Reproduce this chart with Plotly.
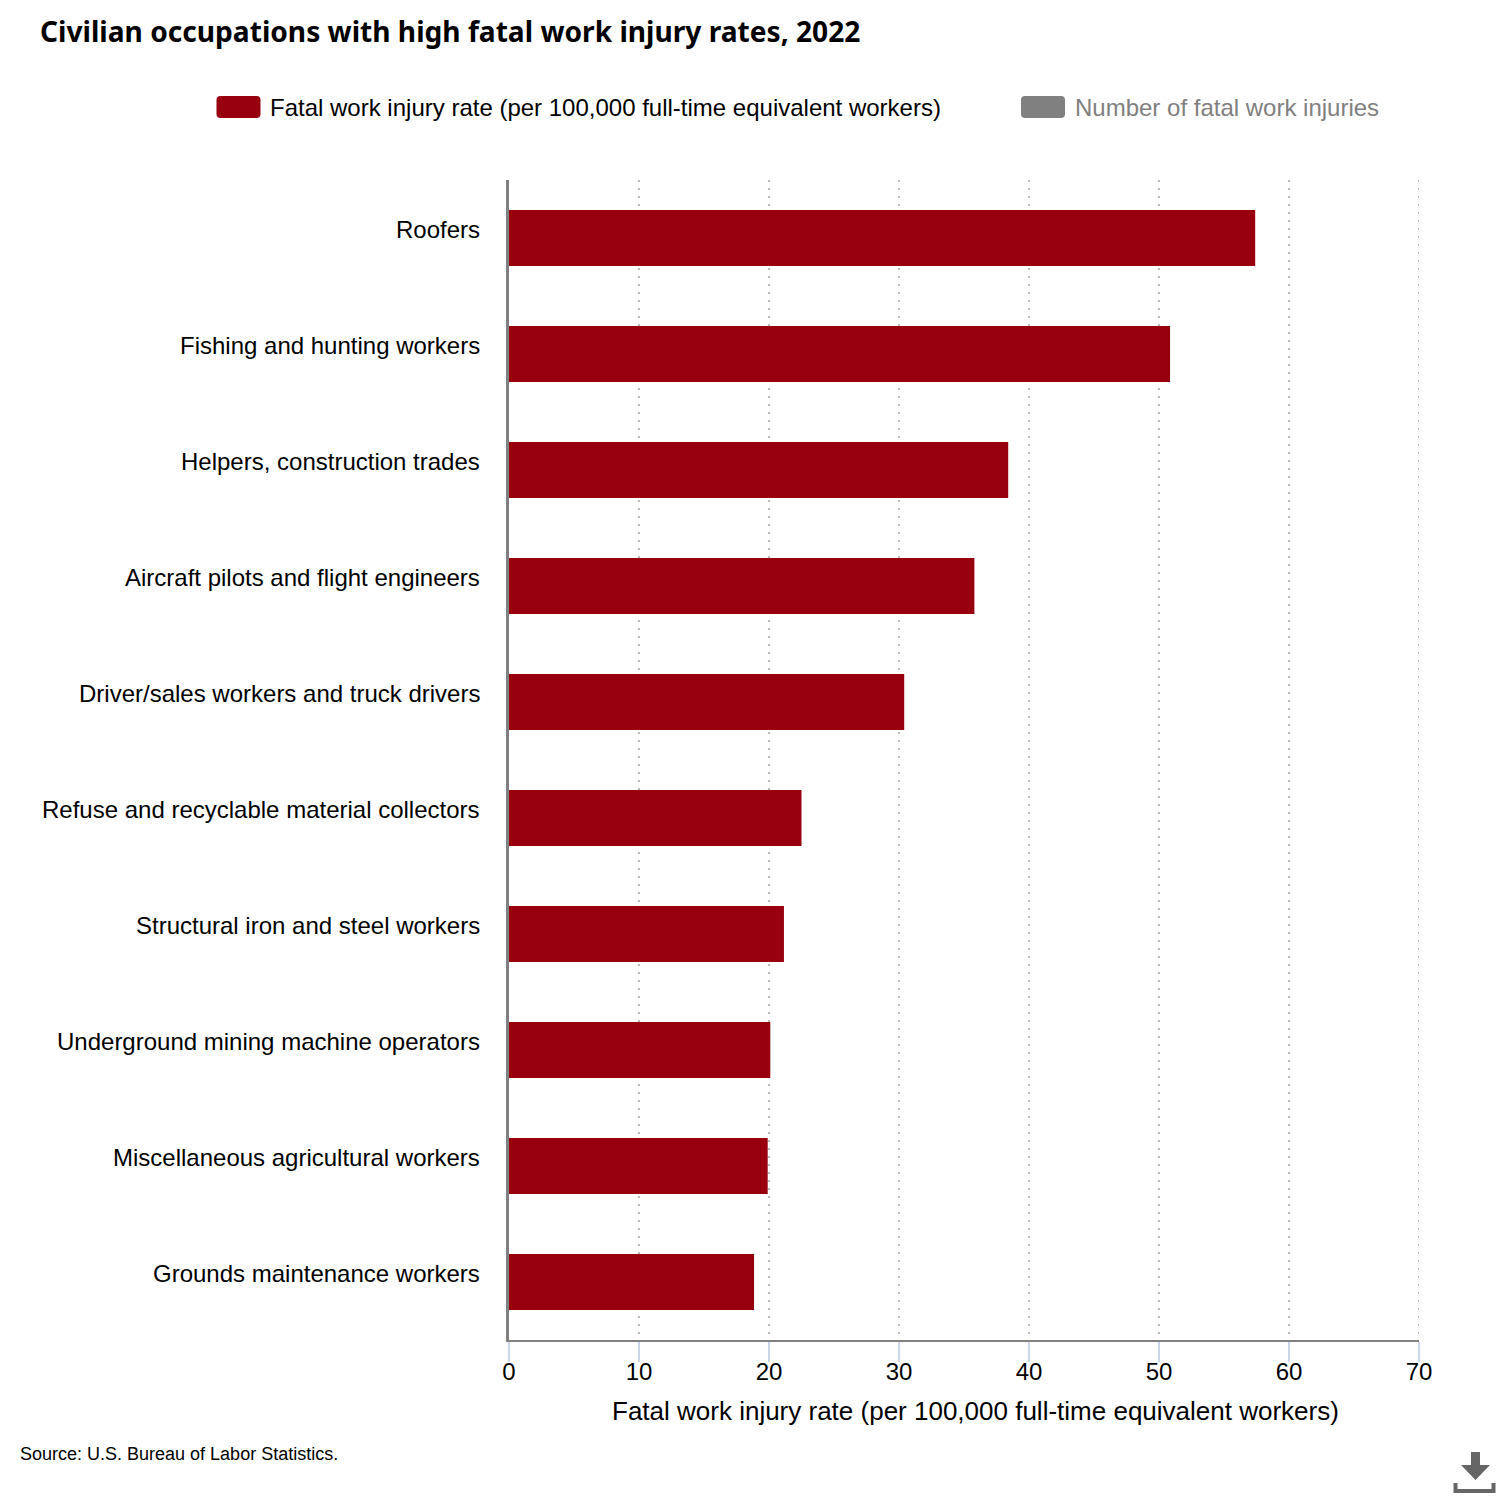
import plotly.graph_objects as go

CATEGORIES = ["Roofers", "Fishing and hunting workers", "Helpers, construction trades",
              "Aircraft pilots and flight engineers", "Driver/sales workers and truck drivers",
              "Refuse and recyclable material collectors", "Structural iron and steel workers",
              "Underground mining machine operators", "Miscellaneous agricultural workers",
              "Grounds maintenance workers"]
RATES = [57.4, 50.85, 38.4, 35.8, 30.4, 22.5, 21.15, 20.1, 19.9, 18.85]
TICKS = [0, 10, 20, 30, 40, 50, 60, 70]
TITLE = "Civilian occupations with high fatal work injury rates, 2022"
AXIS_TITLE = "Fatal work injury rate (per 100,000 full-time equivalent workers)"
LEGEND_1 = AXIS_TITLE
LEGEND_2 = "Number of fatal work injuries"
SOURCE = "Source: U.S. Bureau of Labor Statistics."

W, H = 1500, 1500
L, R, T, B = 509, 81, 180, 160
RED = "#98000F"
GREY = "#808080"
GRID = "#bbbbbb"
FONT = "Liberation Sans, Arial, sans-serif"

def px(x):
    return (x - L) / (W - L - R)

def py(y):
    return 1 - (y - T) / (H - T - B)

def rrect(x0, y0, x1, y1, r, color):
    path = (f"M{px(x0+r)},{py(y0)} L{px(x1-r)},{py(y0)} Q{px(x1)},{py(y0)} {px(x1)},{py(y0+r)} "
            f"L{px(x1)},{py(y1-r)} Q{px(x1)},{py(y1)} {px(x1-r)},{py(y1)} L{px(x0+r)},{py(y1)} "
            f"Q{px(x0)},{py(y1)} {px(x0)},{py(y1-r)} L{px(x0)},{py(y0+r)} Q{px(x0)},{py(y0)} {px(x0+r)},{py(y0)} Z")
    return dict(type="path", xref="paper", yref="paper", path=path, fillcolor=color, line_width=0, layer="above")

def poly(points, color):
    path = "M" + " L".join(f"{px(a)},{py(b)}" for a, b in points) + " Z"
    return dict(type="path", xref="paper", yref="paper", path=path, fillcolor=color, line_width=0, layer="above")

fig = go.Figure(go.Bar(x=RATES, y=CATEGORIES, orientation="h", marker=dict(color=RED, line_width=0),
                       showlegend=False, hoverinfo="x+y"))

annotations = [dict(x=px(482), y=c, xref="paper", yref="y", text=c, showarrow=False, xanchor="right",
                    yanchor="middle", yshift=9, font=dict(family=FONT, size=24, color="#000000"))
               for c in CATEGORIES]

def label(x, y, text, size, color="#000000", family=FONT, anchor="left"):
    return dict(x=px(x), y=py(y), xref="paper", yref="paper", text=text, showarrow=False, xanchor=anchor,
                yanchor="middle", font=dict(family=family, size=size, color=color), borderpad=0, borderwidth=0)

annotations += [
    label(40, 31, f"<b>{TITLE}</b>", 28.13, family="Noto Sans"),
    label(270, 107.5, LEGEND_1, 24),
    label(1075, 107.5, LEGEND_2, 24, color=GREY),
    label(20, 1454, SOURCE, 18),
    label(975, 1410.5, AXIS_TITLE, 26, anchor="center"),
]

icon = "#666666"
shapes = [
    dict(type="line", xref="x", yref="paper", x0=TICKS[-1], x1=TICKS[-1], y0=1, y1=0, layer="below",
         line=dict(color=GRID, width=2, dash="2px,6px")),
    rrect(216.5, 96, 260.5, 118, 4, RED),
    rrect(1021, 96, 1065, 118, 4, GREY),
    poly([(1471, 1452), (1480, 1452), (1480, 1465), (1490, 1465), (1475.5, 1480), (1461, 1465), (1471, 1465)], icon),
    poly([(1453.5, 1483), (1457.5, 1483), (1457.5, 1489), (1491.5, 1489), (1491.5, 1483), (1495.5, 1483),
          (1495.5, 1493), (1453.5, 1493)], icon),
]

fig.update_layout(
    width=W, height=H, margin=dict(l=L, r=R, t=T, b=B, pad=0), paper_bgcolor="white", plot_bgcolor="white",
    bargap=60 / 116, annotations=annotations, shapes=shapes, showlegend=False,
    font=dict(family=FONT, color="#000000"),
    xaxis=dict(range=[0, 70], tickvals=TICKS, ticks="outside", ticklen=20, tickwidth=2, tickcolor="#ccd6eb",
               tickfont=dict(size=24, color="#000000"), ticklabelstandoff=-11, showgrid=True, gridcolor=GRID, gridwidth=2,
               griddash="2px,6px", showline=True, linecolor=GREY, linewidth=2, zeroline=False),
    yaxis=dict(categoryorder="array", categoryarray=CATEGORIES[::-1], showticklabels=False, ticks="",
               showgrid=False, showline=True, linecolor=GREY, linewidth=2.5, zeroline=False),
)
fig.write_html("out.html", config=dict(displayModeBar=False), post_script="document.body.style.margin='0';")
